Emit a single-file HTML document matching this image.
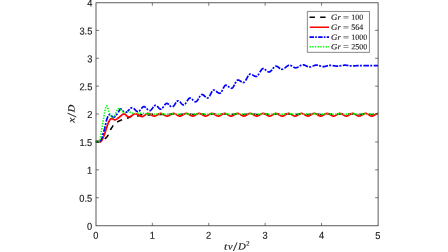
<!DOCTYPE html>
<html><head><meta charset="utf-8"><title>plot</title>
<style>html,body{margin:0;padding:0;background:#fff;}svg{display:block;}text{font-family:"Liberation Sans",sans-serif;}.m{font-family:"Liberation Serif",serif;}</style></head>
<body>
<svg width="448" height="252" viewBox="0 0 448 252">
<rect width="448" height="252" fill="#fff"/>
<defs><clipPath id="c"><rect x="95.5" y="2.6" width="282.8" height="223.1"/></clipPath></defs>
<g clip-path="url(#c)" fill="none" stroke-linejoin="round">
<path d="M95.60 141.60 L95.91 141.60 L96.23 141.60 L96.54 141.60 L96.86 141.60 L97.17 141.60 L97.48 141.60 L97.80 141.60 L98.11 141.60 L98.43 141.60 L98.74 141.60 L99.05 141.60 L99.37 141.60 L99.68 141.60 L100.00 141.60 L100.31 141.60 L100.63 141.60 L100.94 141.60 L101.25 141.60 L101.57 141.60 L101.88 141.60 L102.20 141.60 L102.51 141.60 L102.82 141.53 L103.14 141.34 L103.45 141.06 L103.77 140.70 L104.08 140.29 L104.39 139.85 L104.71 139.41 L105.02 138.97 L105.34 138.57 L105.65 138.22 L105.96 137.87 L106.28 137.52 L106.59 137.17 L106.91 136.80 L107.22 136.42 L107.53 136.02 L107.85 135.59 L108.16 135.12 L108.48 134.59 L108.79 133.96 L109.11 133.23 L109.42 132.45 L109.73 131.65 L110.05 130.86 L110.36 130.11 L110.68 129.44 L110.99 128.86 L111.30 128.35 L111.62 127.86 L111.93 127.40 L112.25 126.94 L112.56 126.46 L112.87 125.94 L113.19 125.44 L113.50 125.07 L113.82 124.73 L114.13 124.41 L114.44 124.10 L114.76 123.81 L115.07 123.54 L115.39 123.28 L115.70 123.03 L116.01 122.80 L116.33 122.58 L116.64 122.37 L116.96 122.16 L117.27 121.97 L117.58 121.78 L117.90 121.60 L118.21 121.43 L118.53 121.26 L118.84 121.11 L119.16 120.96 L119.47 120.81 L119.78 120.68 L120.10 120.54 L120.41 120.42 L120.73 120.29 L121.04 120.17 L121.35 120.05 L121.67 119.94 L121.98 119.83 L122.30 119.72 L122.61 119.62 L122.92 119.52 L123.24 119.42 L123.55 119.33 L123.87 119.24 L124.18 119.15 L124.49 119.06 L124.81 118.97 L125.12 118.88 L125.44 118.79 L125.75 118.70 L126.06 118.61 L126.38 118.51 L126.69 118.41 L127.01 118.31 L127.32 118.20 L127.64 118.09 L127.95 117.96 L128.26 117.82 L128.58 117.66 L128.89 117.50 L129.21 117.33 L129.52 117.15 L129.83 116.99 L130.15 116.82 L130.46 116.67 L130.78 116.53 L131.09 116.41 L131.40 116.31 L131.72 116.24 L132.03 116.20 L132.35 116.17 L132.66 116.14 L132.97 116.12 L133.29 116.10 L133.60 116.09 L133.92 116.08 L134.23 116.06 L134.54 116.05 L134.86 116.04 L135.17 116.03 L135.49 116.02 L135.80 116.01 L136.12 116.00 L136.43 115.98 L136.74 115.96 L137.06 115.94 L137.37 115.92 L137.69 115.89 L138.00 115.85 L138.31 115.78 L138.63 115.71 L138.94 115.62 L139.26 115.52 L139.57 115.41 L139.88 115.30 L140.20 115.19 L140.51 115.09 L140.83 114.99 L141.14 114.90 L141.45 114.82 L141.77 114.76 L142.08 114.72 L142.40 114.70 L142.71 114.70 L143.02 114.70 L143.34 114.71 L143.65 114.72 L143.97 114.73 L144.28 114.74 L144.60 114.75 L144.91 114.77 L145.22 114.78 L145.54 114.80 L145.85 114.81 L146.17 114.83 L146.48 114.84 L146.79 114.86 L147.11 114.87 L147.42 114.88 L147.74 114.89 L148.05 114.90 L148.36 114.90 L148.68 114.90 L148.99 114.89 L149.31 114.86 L149.62 114.82 L149.93 114.78 L150.25 114.72 L150.56 114.65 L150.88 114.58 L151.19 114.51 L151.50 114.44 L151.82 114.36 L152.13 114.29 L152.45 114.22 L152.76 114.16 L153.08 114.11 L153.39 114.06 L153.70 114.03 L154.02 114.01 L154.33 114.00 L154.65 114.00 L154.96 114.01 L155.27 114.03 L155.59 114.05 L155.90 114.08 L156.22 114.11 L156.53 114.14 L156.84 114.17 L157.16 114.21 L157.47 114.25 L157.79 114.28 L158.10 114.32 L158.41 114.35 L158.73 114.39 L159.04 114.42 L159.36 114.44 L159.67 114.47 L159.98 114.48 L160.30 114.49 L160.61 114.50 L160.93 114.50 L161.24 114.50 L161.55 114.50 L161.87 114.50 L162.18 114.50 L162.50 114.50 L162.81 114.50 L163.13 114.50 L163.44 114.50 L163.75 114.50 L164.07 114.50 L164.38 114.50 L164.70 114.50 L165.01 114.50 L165.32 114.50 L165.64 114.50 L165.95 114.50 L166.27 114.50 L166.58 114.50 L166.89 114.50 L167.21 114.50 L167.52 114.49 L167.84 114.48 L168.15 114.46 L168.46 114.43 L168.78 114.40 L169.09 114.36 L169.41 114.32 L169.72 114.28 L170.03 114.24 L170.35 114.19 L170.66 114.15 L170.98 114.11 L171.29 114.07 L171.61 114.03 L171.92 113.99 L172.23 113.96 L172.55 113.94 L172.86 113.92 L173.18 113.90 L173.49 113.90 L173.80 113.90 L174.12 113.92 L174.43 113.93 L174.75 113.96 L175.06 113.99 L175.37 114.02 L175.69 114.06 L176.00 114.10 L176.32 114.15 L176.63 114.19 L176.94 114.23 L177.26 114.28 L177.57 114.32 L177.89 114.36 L178.20 114.40 L178.51 114.43 L178.83 114.46 L179.14 114.48 L179.46 114.49 L179.77 114.50 L180.09 114.50 L180.40 114.49 L180.71 114.47 L181.03 114.45 L181.34 114.42 L181.66 114.39 L181.97 114.35 L182.28 114.31 L182.60 114.27 L182.91 114.23 L183.23 114.18 L183.54 114.14 L183.85 114.10 L184.17 114.06 L184.48 114.02 L184.80 113.98 L185.11 113.95 L185.42 113.93 L185.74 113.91 L186.05 113.90 L186.37 113.90 L186.68 113.91 L186.99 113.92 L187.31 113.94 L187.62 113.97 L187.94 114.00 L188.25 114.03 L188.57 114.07 L188.88 114.11 L189.19 114.16 L189.51 114.20 L189.82 114.25 L190.14 114.29 L190.45 114.33 L190.76 114.37 L191.08 114.40 L191.39 114.44 L191.71 114.46 L192.02 114.48 L192.33 114.49 L192.65 114.50 L192.96 114.50 L193.28 114.49 L193.59 114.47 L193.90 114.44 L194.22 114.41 L194.53 114.38 L194.85 114.34 L195.16 114.30 L195.47 114.26 L195.79 114.22 L196.10 114.17 L196.42 114.13 L196.73 114.09 L197.04 114.05 L197.36 114.01 L197.67 113.98 L197.99 113.95 L198.30 113.93 L198.62 113.91 L198.93 113.90 L199.24 113.90 L199.56 113.91 L199.87 113.92 L200.19 113.95 L200.50 113.97 L200.81 114.01 L201.13 114.04 L201.44 114.08 L201.76 114.12 L202.07 114.17 L202.38 114.21 L202.70 114.26 L203.01 114.30 L203.33 114.34 L203.64 114.38 L203.95 114.41 L204.27 114.44 L204.58 114.47 L204.90 114.49 L205.21 114.50 L205.52 114.50 L205.84 114.50 L206.15 114.48 L206.47 114.46 L206.78 114.44 L207.10 114.41 L207.41 114.37 L207.72 114.33 L208.04 114.29 L208.35 114.25 L208.67 114.20 L208.98 114.16 L209.29 114.12 L209.61 114.08 L209.92 114.04 L210.24 114.00 L210.55 113.97 L210.86 113.94 L211.18 113.92 L211.49 113.91 L211.81 113.90 L212.12 113.90 L212.43 113.91 L212.75 113.93 L213.06 113.95 L213.38 113.98 L213.69 114.01 L214.00 114.05 L214.32 114.09 L214.63 114.13 L214.95 114.18 L215.26 114.22 L215.58 114.27 L215.89 114.31 L216.20 114.35 L216.52 114.39 L216.83 114.42 L217.15 114.45 L217.46 114.47 L217.77 114.49 L218.09 114.50 L218.40 114.50 L218.72 114.49 L219.03 114.48 L219.34 114.46 L219.66 114.43 L219.97 114.40 L220.29 114.36 L220.60 114.32 L220.91 114.28 L221.23 114.24 L221.54 114.19 L221.86 114.15 L222.17 114.11 L222.48 114.07 L222.80 114.03 L223.11 113.99 L223.43 113.96 L223.74 113.94 L224.06 113.92 L224.37 113.90 L224.68 113.90 L225.00 113.90 L225.31 113.92 L225.63 113.93 L225.94 113.96 L226.25 113.99 L226.57 114.02 L226.88 114.06 L227.20 114.10 L227.51 114.15 L227.82 114.19 L228.14 114.23 L228.45 114.28 L228.77 114.32 L229.08 114.36 L229.39 114.39 L229.71 114.43 L230.02 114.45 L230.34 114.48 L230.65 114.49 L230.96 114.50 L231.28 114.50 L231.59 114.49 L231.91 114.47 L232.22 114.45 L232.54 114.42 L232.85 114.39 L233.16 114.35 L233.48 114.31 L233.79 114.27 L234.11 114.23 L234.42 114.18 L234.73 114.14 L235.05 114.10 L235.36 114.06 L235.68 114.02 L235.99 113.98 L236.30 113.96 L236.62 113.93 L236.93 113.91 L237.25 113.90 L237.56 113.90 L237.87 113.91 L238.19 113.92 L238.50 113.94 L238.82 113.97 L239.13 114.00 L239.44 114.03 L239.76 114.07 L240.07 114.11 L240.39 114.16 L240.70 114.20 L241.01 114.24 L241.33 114.29 L241.64 114.33 L241.96 114.37 L242.27 114.40 L242.59 114.43 L242.90 114.46 L243.21 114.48 L243.53 114.49 L243.84 114.50 L244.16 114.50 L244.47 114.49 L244.78 114.47 L245.10 114.44 L245.41 114.42 L245.73 114.38 L246.04 114.34 L246.35 114.30 L246.67 114.26 L246.98 114.22 L247.30 114.17 L247.61 114.13 L247.92 114.09 L248.24 114.05 L248.55 114.01 L248.87 113.98 L249.18 113.95 L249.49 113.93 L249.81 113.91 L250.12 113.90 L250.44 113.90 L250.75 113.91 L251.07 113.92 L251.38 113.95 L251.69 113.97 L252.01 114.01 L252.32 114.04 L252.64 114.08 L252.95 114.12 L253.26 114.17 L253.58 114.21 L253.89 114.25 L254.21 114.30 L254.52 114.34 L254.83 114.38 L255.15 114.41 L255.46 114.44 L255.78 114.47 L256.09 114.48 L256.40 114.50 L256.72 114.50 L257.03 114.50 L257.35 114.48 L257.66 114.46 L257.97 114.44 L258.29 114.41 L258.60 114.37 L258.92 114.33 L259.23 114.29 L259.55 114.25 L259.86 114.21 L260.17 114.16 L260.49 114.12 L260.80 114.08 L261.12 114.04 L261.43 114.00 L261.74 113.97 L262.06 113.94 L262.37 113.92 L262.69 113.91 L263.00 113.90 L263.31 113.90 L263.63 113.91 L263.94 113.93 L264.26 113.95 L264.57 113.98 L264.88 114.01 L265.20 114.05 L265.51 114.09 L265.83 114.13 L266.14 114.18 L266.45 114.22 L266.77 114.27 L267.08 114.31 L267.40 114.35 L267.71 114.39 L268.03 114.42 L268.34 114.45 L268.65 114.47 L268.97 114.49 L269.28 114.50 L269.60 114.50 L269.91 114.49 L270.22 114.48 L270.54 114.46 L270.85 114.43 L271.17 114.40 L271.48 114.36 L271.79 114.32 L272.11 114.28 L272.42 114.24 L272.74 114.19 L273.05 114.15 L273.36 114.11 L273.68 114.07 L273.99 114.03 L274.31 113.99 L274.62 113.96 L274.93 113.94 L275.25 113.92 L275.56 113.90 L275.88 113.90 L276.19 113.90 L276.51 113.92 L276.82 113.93 L277.13 113.96 L277.45 113.99 L277.76 114.02 L278.08 114.06 L278.39 114.10 L278.70 114.14 L279.02 114.19 L279.33 114.23 L279.65 114.28 L279.96 114.32 L280.27 114.36 L280.59 114.39 L280.90 114.43 L281.22 114.45 L281.53 114.48 L281.84 114.49 L282.16 114.50 L282.47 114.50 L282.79 114.49 L283.10 114.47 L283.41 114.45 L283.73 114.42 L284.04 114.39 L284.36 114.35 L284.67 114.31 L284.98 114.27 L285.30 114.23 L285.61 114.18 L285.93 114.14 L286.24 114.10 L286.56 114.06 L286.87 114.02 L287.18 113.99 L287.50 113.96 L287.81 113.93 L288.13 113.91 L288.44 113.90 L288.75 113.90 L289.07 113.91 L289.38 113.92 L289.70 113.94 L290.01 113.97 L290.32 114.00 L290.64 114.03 L290.95 114.07 L291.27 114.11 L291.58 114.16 L291.89 114.20 L292.21 114.24 L292.52 114.29 L292.84 114.33 L293.15 114.37 L293.46 114.40 L293.78 114.43 L294.09 114.46 L294.41 114.48 L294.72 114.49 L295.04 114.50 L295.35 114.50 L295.66 114.49 L295.98 114.47 L296.29 114.45 L296.61 114.42 L296.92 114.38 L297.23 114.34 L297.55 114.30 L297.86 114.26 L298.18 114.22 L298.49 114.17 L298.80 114.13 L299.12 114.09 L299.43 114.05 L299.75 114.01 L300.06 113.98 L300.37 113.95 L300.69 113.93 L301.00 113.91 L301.32 113.90 L301.63 113.90 L301.94 113.91 L302.26 113.92 L302.57 113.94 L302.89 113.97 L303.20 114.00 L303.52 114.04 L303.83 114.08 L304.14 114.12 L304.46 114.17 L304.77 114.21 L305.09 114.25 L305.40 114.30 L305.71 114.34 L306.03 114.38 L306.34 114.41 L306.66 114.44 L306.97 114.47 L307.28 114.48 L307.60 114.50 L307.91 114.50 L308.23 114.50 L308.54 114.48 L308.85 114.46 L309.17 114.44 L309.48 114.41 L309.80 114.37 L310.11 114.33 L310.42 114.29 L310.74 114.25 L311.05 114.21 L311.37 114.16 L311.68 114.12 L312.00 114.08 L312.31 114.04 L312.62 114.00 L312.94 113.97 L313.25 113.94 L313.57 113.92 L313.88 113.91 L314.19 113.90 L314.51 113.90 L314.82 113.91 L315.14 113.93 L315.45 113.95 L315.76 113.98 L316.08 114.01 L316.39 114.05 L316.71 114.09 L317.02 114.13 L317.33 114.18 L317.65 114.22 L317.96 114.26 L318.28 114.31 L318.59 114.35 L318.90 114.38 L319.22 114.42 L319.53 114.45 L319.85 114.47 L320.16 114.49 L320.47 114.50 L320.79 114.50 L321.10 114.49 L321.42 114.48 L321.73 114.46 L322.05 114.43 L322.36 114.40 L322.67 114.36 L322.99 114.32 L323.30 114.28 L323.62 114.24 L323.93 114.20 L324.24 114.15 L324.56 114.11 L324.87 114.07 L325.19 114.03 L325.50 113.99 L325.81 113.96 L326.13 113.94 L326.44 113.92 L326.76 113.91 L327.07 113.90 L327.38 113.90 L327.70 113.91 L328.01 113.93 L328.33 113.96 L328.64 113.99 L328.95 114.02 L329.27 114.06 L329.58 114.10 L329.90 114.14 L330.21 114.19 L330.53 114.23 L330.84 114.28 L331.15 114.32 L331.47 114.36 L331.78 114.39 L332.10 114.43 L332.41 114.45 L332.72 114.48 L333.04 114.49 L333.35 114.50 L333.67 114.50 L333.98 114.49 L334.29 114.47 L334.61 114.45 L334.92 114.42 L335.24 114.39 L335.55 114.35 L335.86 114.31 L336.18 114.27 L336.49 114.23 L336.81 114.19 L337.12 114.14 L337.43 114.10 L337.75 114.06 L338.06 114.02 L338.38 113.99 L338.69 113.96 L339.01 113.93 L339.32 113.91 L339.63 113.90 L339.95 113.90 L340.26 113.91 L340.58 113.92 L340.89 113.94 L341.20 113.96 L341.52 114.00 L341.83 114.03 L342.15 114.07 L342.46 114.11 L342.77 114.15 L343.09 114.20 L343.40 114.24 L343.72 114.29 L344.03 114.33 L344.34 114.37 L344.66 114.40 L344.97 114.43 L345.29 114.46 L345.60 114.48 L345.91 114.49 L346.23 114.50 L346.54 114.50 L346.86 114.49 L347.17 114.47 L347.49 114.45 L347.80 114.42 L348.11 114.38 L348.43 114.35 L348.74 114.30 L349.06 114.26 L349.37 114.22 L349.68 114.17 L350.00 114.13 L350.31 114.09 L350.63 114.05 L350.94 114.01 L351.25 113.98 L351.57 113.95 L351.88 113.93 L352.20 113.91 L352.51 113.90 L352.82 113.90 L353.14 113.91 L353.45 113.92 L353.77 113.94 L354.08 113.97 L354.39 114.00 L354.71 114.04 L355.02 114.08 L355.34 114.12 L355.65 114.17 L355.97 114.21 L356.28 114.25 L356.59 114.30 L356.91 114.34 L357.22 114.38 L357.54 114.41 L357.85 114.44 L358.16 114.47 L358.48 114.48 L358.79 114.50 L359.11 114.50 L359.42 114.50 L359.73 114.48 L360.05 114.46 L360.36 114.44 L360.68 114.41 L360.99 114.37 L361.30 114.34 L361.62 114.29 L361.93 114.25 L362.25 114.21 L362.56 114.16 L362.87 114.12 L363.19 114.08 L363.50 114.04 L363.82 114.00 L364.13 113.97 L364.44 113.94 L364.76 113.92 L365.07 113.91 L365.39 113.90 L365.70 113.90 L366.02 113.91 L366.33 113.93 L366.64 113.95 L366.96 113.98 L367.27 114.01 L367.59 114.05 L367.90 114.09 L368.21 114.13 L368.53 114.18 L368.84 114.22 L369.16 114.26 L369.47 114.31 L369.78 114.35 L370.10 114.38 L370.41 114.42 L370.73 114.45 L371.04 114.47 L371.35 114.49 L371.67 114.50 L371.98 114.50 L372.30 114.49 L372.61 114.48 L372.92 114.46 L373.24 114.43 L373.55 114.40 L373.87 114.36 L374.18 114.33 L374.50 114.28 L374.81 114.24 L375.12 114.20 L375.44 114.15 L375.75 114.11 L376.07 114.07 L376.38 114.03 L376.69 113.99 L377.01 113.96 L377.32 113.94 L377.64 113.92 L377.95 113.91" stroke="#000" stroke-width="1.6" stroke-dasharray="5.4 5.2"/>
<path d="M95.60 141.60 L95.91 141.60 L96.23 141.60 L96.54 141.60 L96.86 141.60 L97.17 141.60 L97.48 141.60 L97.80 141.60 L98.11 141.60 L98.43 141.60 L98.74 141.60 L99.05 141.60 L99.37 141.60 L99.68 141.60 L100.00 141.60 L100.31 141.60 L100.63 141.60 L100.94 141.43 L101.25 141.07 L101.57 140.64 L101.88 140.20 L102.20 139.68 L102.51 139.09 L102.82 138.44 L103.14 137.76 L103.45 137.05 L103.77 136.27 L104.08 135.43 L104.39 134.54 L104.71 133.61 L105.02 132.66 L105.34 131.70 L105.65 130.75 L105.96 129.81 L106.28 128.85 L106.59 127.87 L106.91 126.90 L107.22 125.94 L107.53 124.92 L107.85 123.89 L108.16 123.01 L108.48 122.35 L108.79 121.74 L109.11 121.16 L109.42 120.62 L109.73 120.13 L110.05 119.70 L110.36 119.33 L110.68 119.05 L110.99 118.85 L111.30 118.73 L111.62 118.63 L111.93 118.60 L112.25 118.65 L112.56 118.78 L112.87 118.96 L113.19 119.17 L113.50 119.39 L113.82 119.59 L114.13 119.76 L114.44 119.87 L114.76 119.90 L115.07 119.87 L115.39 119.79 L115.70 119.68 L116.01 119.53 L116.33 119.36 L116.64 119.16 L116.96 118.94 L117.27 118.71 L117.58 118.47 L117.90 118.22 L118.21 117.98 L118.53 117.74 L118.84 117.51 L119.16 117.29 L119.47 117.05 L119.78 116.79 L120.10 116.52 L120.41 116.23 L120.73 115.95 L121.04 115.66 L121.35 115.39 L121.67 115.13 L121.98 114.89 L122.30 114.68 L122.61 114.49 L122.92 114.32 L123.24 114.15 L123.55 114.03 L123.87 114.00 L124.18 114.05 L124.49 114.15 L124.81 114.29 L125.12 114.48 L125.44 114.70 L125.75 114.95 L126.06 115.21 L126.38 115.48 L126.69 115.75 L127.01 116.02 L127.32 116.26 L127.64 116.49 L127.95 116.68 L128.26 116.84 L128.58 116.94 L128.89 117.00 L129.21 116.99 L129.52 116.94 L129.83 116.85 L130.15 116.73 L130.46 116.58 L130.78 116.40 L131.09 116.20 L131.40 115.98 L131.72 115.76 L132.03 115.53 L132.35 115.29 L132.66 115.06 L132.97 114.83 L133.29 114.62 L133.60 114.42 L133.92 114.24 L134.23 114.08 L134.54 113.96 L134.86 113.86 L135.17 113.81 L135.49 113.80 L135.80 113.83 L136.12 113.89 L136.43 113.97 L136.74 114.08 L137.06 114.22 L137.37 114.37 L137.69 114.54 L138.00 114.71 L138.31 114.90 L138.63 115.09 L138.94 115.29 L139.26 115.48 L139.57 115.67 L139.88 115.85 L140.20 116.01 L140.51 116.17 L140.83 116.30 L141.14 116.42 L141.45 116.51 L141.77 116.57 L142.08 116.60 L142.40 116.59 L142.71 116.53 L143.02 116.42 L143.34 116.27 L143.65 116.08 L143.97 115.87 L144.28 115.63 L144.60 115.38 L144.91 115.12 L145.22 114.85 L145.54 114.59 L145.85 114.34 L146.17 114.11 L146.48 113.90 L146.79 113.71 L147.11 113.57 L147.42 113.46 L147.74 113.41 L148.05 113.40 L148.36 113.44 L148.68 113.51 L148.99 113.61 L149.31 113.73 L149.62 113.88 L149.93 114.04 L150.25 114.22 L150.56 114.41 L150.88 114.61 L151.19 114.81 L151.50 115.00 L151.82 115.20 L152.13 115.38 L152.45 115.55 L152.76 115.71 L153.08 115.84 L153.39 115.95 L153.70 116.03 L154.02 116.08 L154.33 116.10 L154.65 116.08 L154.96 116.02 L155.27 115.93 L155.59 115.82 L155.90 115.68 L156.22 115.52 L156.53 115.35 L156.84 115.16 L157.16 114.97 L157.47 114.77 L157.79 114.57 L158.10 114.37 L158.41 114.19 L158.73 114.01 L159.04 113.85 L159.36 113.71 L159.67 113.59 L159.98 113.49 L160.30 113.43 L160.61 113.40 L160.93 113.41 L161.24 113.45 L161.55 113.53 L161.87 113.64 L162.18 113.77 L162.50 113.92 L162.81 114.09 L163.13 114.27 L163.44 114.46 L163.75 114.66 L164.07 114.86 L164.38 115.05 L164.70 115.24 L165.01 115.42 L165.32 115.59 L165.64 115.74 L165.95 115.87 L166.27 115.97 L166.58 116.05 L166.89 116.09 L167.21 116.10 L167.52 116.07 L167.84 116.00 L168.15 115.91 L168.46 115.78 L168.78 115.64 L169.09 115.48 L169.41 115.30 L169.72 115.11 L170.03 114.92 L170.35 114.72 L170.66 114.52 L170.98 114.33 L171.29 114.14 L171.61 113.97 L171.92 113.81 L172.23 113.68 L172.55 113.56 L172.86 113.48 L173.18 113.42 L173.49 113.40 L173.80 113.42 L174.12 113.47 L174.43 113.56 L174.75 113.67 L175.06 113.80 L175.37 113.96 L175.69 114.13 L176.00 114.32 L176.32 114.51 L176.63 114.71 L176.94 114.90 L177.26 115.10 L177.57 115.29 L177.89 115.47 L178.20 115.63 L178.51 115.78 L178.83 115.90 L179.14 116.00 L179.46 116.06 L179.77 116.10 L180.09 116.09 L180.40 116.05 L180.71 115.98 L181.03 115.88 L181.34 115.75 L181.66 115.60 L181.97 115.44 L182.28 115.26 L182.60 115.07 L182.91 114.87 L183.23 114.67 L183.54 114.47 L183.85 114.28 L184.17 114.10 L184.48 113.93 L184.80 113.78 L185.11 113.65 L185.42 113.54 L185.74 113.46 L186.05 113.41 L186.37 113.40 L186.68 113.43 L186.99 113.49 L187.31 113.58 L187.62 113.70 L187.94 113.84 L188.25 114.00 L188.57 114.18 L188.88 114.36 L189.19 114.56 L189.51 114.75 L189.82 114.95 L190.14 115.15 L190.45 115.33 L190.76 115.51 L191.08 115.67 L191.39 115.81 L191.71 115.92 L192.02 116.02 L192.33 116.07 L192.65 116.10 L192.96 116.09 L193.28 116.04 L193.59 115.96 L193.90 115.85 L194.22 115.72 L194.53 115.56 L194.85 115.39 L195.16 115.21 L195.47 115.02 L195.79 114.82 L196.10 114.62 L196.42 114.43 L196.73 114.24 L197.04 114.06 L197.36 113.89 L197.67 113.74 L197.99 113.62 L198.30 113.52 L198.62 113.44 L198.93 113.41 L199.24 113.40 L199.56 113.44 L199.87 113.51 L200.19 113.61 L200.50 113.73 L200.81 113.88 L201.13 114.04 L201.44 114.22 L201.76 114.41 L202.07 114.60 L202.38 114.80 L202.70 115.00 L203.01 115.19 L203.33 115.38 L203.64 115.55 L203.95 115.70 L204.27 115.84 L204.58 115.95 L204.90 116.03 L205.21 116.08 L205.52 116.10 L205.84 116.08 L206.15 116.02 L206.47 115.93 L206.78 115.82 L207.10 115.68 L207.41 115.52 L207.72 115.35 L208.04 115.16 L208.35 114.97 L208.67 114.77 L208.98 114.57 L209.29 114.38 L209.61 114.19 L209.92 114.01 L210.24 113.85 L210.55 113.71 L210.86 113.59 L211.18 113.50 L211.49 113.43 L211.81 113.40 L212.12 113.41 L212.43 113.45 L212.75 113.53 L213.06 113.63 L213.38 113.76 L213.69 113.92 L214.00 114.08 L214.32 114.27 L214.63 114.46 L214.95 114.65 L215.26 114.85 L215.58 115.05 L215.89 115.24 L216.20 115.42 L216.52 115.59 L216.83 115.74 L217.15 115.87 L217.46 115.97 L217.77 116.05 L218.09 116.09 L218.40 116.10 L218.72 116.07 L219.03 116.00 L219.34 115.91 L219.66 115.79 L219.97 115.64 L220.29 115.48 L220.60 115.30 L220.91 115.12 L221.23 114.92 L221.54 114.72 L221.86 114.53 L222.17 114.33 L222.48 114.15 L222.80 113.97 L223.11 113.82 L223.43 113.68 L223.74 113.56 L224.06 113.48 L224.37 113.42 L224.68 113.40 L225.00 113.42 L225.31 113.47 L225.63 113.55 L225.94 113.66 L226.25 113.80 L226.57 113.96 L226.88 114.13 L227.20 114.31 L227.51 114.50 L227.82 114.70 L228.14 114.90 L228.45 115.10 L228.77 115.28 L229.08 115.46 L229.39 115.63 L229.71 115.77 L230.02 115.90 L230.34 115.99 L230.65 116.06 L230.96 116.10 L231.28 116.09 L231.59 116.05 L231.91 115.98 L232.22 115.88 L232.54 115.75 L232.85 115.61 L233.16 115.44 L233.48 115.26 L233.79 115.07 L234.11 114.87 L234.42 114.67 L234.73 114.48 L235.05 114.29 L235.36 114.10 L235.68 113.93 L235.99 113.78 L236.30 113.65 L236.62 113.54 L236.93 113.46 L237.25 113.41 L237.56 113.40 L237.87 113.43 L238.19 113.49 L238.50 113.58 L238.82 113.70 L239.13 113.84 L239.44 114.00 L239.76 114.17 L240.07 114.36 L240.39 114.55 L240.70 114.75 L241.01 114.95 L241.33 115.14 L241.64 115.33 L241.96 115.50 L242.27 115.66 L242.59 115.81 L242.90 115.92 L243.21 116.01 L243.53 116.07 L243.84 116.10 L244.16 116.09 L244.47 116.04 L244.78 115.96 L245.10 115.85 L245.41 115.72 L245.73 115.57 L246.04 115.40 L246.35 115.21 L246.67 115.02 L246.98 114.82 L247.30 114.63 L247.61 114.43 L247.92 114.24 L248.24 114.06 L248.55 113.89 L248.87 113.75 L249.18 113.62 L249.49 113.52 L249.81 113.45 L250.12 113.41 L250.44 113.40 L250.75 113.44 L251.07 113.51 L251.38 113.60 L251.69 113.73 L252.01 113.87 L252.32 114.04 L252.64 114.22 L252.95 114.41 L253.26 114.60 L253.58 114.80 L253.89 115.00 L254.21 115.19 L254.52 115.37 L254.83 115.55 L255.15 115.70 L255.46 115.84 L255.78 115.95 L256.09 116.03 L256.40 116.08 L256.72 116.10 L257.03 116.08 L257.35 116.02 L257.66 115.94 L257.97 115.82 L258.29 115.68 L258.60 115.53 L258.92 115.35 L259.23 115.17 L259.55 114.97 L259.86 114.78 L260.17 114.58 L260.49 114.38 L260.80 114.19 L261.12 114.02 L261.43 113.86 L261.74 113.71 L262.06 113.59 L262.37 113.50 L262.69 113.43 L263.00 113.40 L263.31 113.41 L263.63 113.45 L263.94 113.53 L264.26 113.63 L264.57 113.76 L264.88 113.91 L265.20 114.08 L265.51 114.26 L265.83 114.45 L266.14 114.65 L266.45 114.85 L266.77 115.04 L267.08 115.24 L267.40 115.42 L267.71 115.59 L268.03 115.74 L268.34 115.87 L268.65 115.97 L268.97 116.05 L269.28 116.09 L269.60 116.10 L269.91 116.07 L270.22 116.00 L270.54 115.91 L270.85 115.79 L271.17 115.65 L271.48 115.48 L271.79 115.31 L272.11 115.12 L272.42 114.93 L272.74 114.73 L273.05 114.53 L273.36 114.34 L273.68 114.15 L273.99 113.98 L274.31 113.82 L274.62 113.68 L274.93 113.57 L275.25 113.48 L275.56 113.42 L275.88 113.40 L276.19 113.42 L276.51 113.47 L276.82 113.55 L277.13 113.66 L277.45 113.80 L277.76 113.95 L278.08 114.12 L278.39 114.31 L278.70 114.50 L279.02 114.70 L279.33 114.90 L279.65 115.09 L279.96 115.28 L280.27 115.46 L280.59 115.62 L280.90 115.77 L281.22 115.89 L281.53 115.99 L281.84 116.06 L282.16 116.10 L282.47 116.09 L282.79 116.06 L283.10 115.98 L283.41 115.88 L283.73 115.76 L284.04 115.61 L284.36 115.44 L284.67 115.26 L284.98 115.07 L285.30 114.88 L285.61 114.68 L285.93 114.48 L286.24 114.29 L286.56 114.11 L286.87 113.94 L287.18 113.78 L287.50 113.65 L287.81 113.54 L288.13 113.46 L288.44 113.41 L288.75 113.40 L289.07 113.43 L289.38 113.49 L289.70 113.58 L290.01 113.69 L290.32 113.83 L290.64 113.99 L290.95 114.17 L291.27 114.35 L291.58 114.55 L291.89 114.75 L292.21 114.94 L292.52 115.14 L292.84 115.33 L293.15 115.50 L293.46 115.66 L293.78 115.80 L294.09 115.92 L294.41 116.01 L294.72 116.07 L295.04 116.10 L295.35 116.09 L295.66 116.04 L295.98 115.96 L296.29 115.85 L296.61 115.72 L296.92 115.57 L297.23 115.40 L297.55 115.22 L297.86 115.03 L298.18 114.83 L298.49 114.63 L298.80 114.43 L299.12 114.24 L299.43 114.06 L299.75 113.90 L300.06 113.75 L300.37 113.62 L300.69 113.52 L301.00 113.45 L301.32 113.41 L301.63 113.40 L301.94 113.44 L302.26 113.50 L302.57 113.60 L302.89 113.73 L303.20 113.87 L303.52 114.03 L303.83 114.21 L304.14 114.40 L304.46 114.60 L304.77 114.80 L305.09 114.99 L305.40 115.19 L305.71 115.37 L306.03 115.54 L306.34 115.70 L306.66 115.83 L306.97 115.95 L307.28 116.03 L307.60 116.08 L307.91 116.10 L308.23 116.08 L308.54 116.02 L308.85 115.94 L309.17 115.82 L309.48 115.69 L309.80 115.53 L310.11 115.36 L310.42 115.17 L310.74 114.98 L311.05 114.78 L311.37 114.58 L311.68 114.39 L312.00 114.20 L312.31 114.02 L312.62 113.86 L312.94 113.72 L313.25 113.59 L313.57 113.50 L313.88 113.43 L314.19 113.40 L314.51 113.41 L314.82 113.45 L315.14 113.53 L315.45 113.63 L315.76 113.76 L316.08 113.91 L316.39 114.08 L316.71 114.26 L317.02 114.45 L317.33 114.65 L317.65 114.84 L317.96 115.04 L318.28 115.23 L318.59 115.41 L318.90 115.58 L319.22 115.73 L319.53 115.86 L319.85 115.97 L320.16 116.05 L320.47 116.09 L320.79 116.10 L321.10 116.07 L321.42 116.01 L321.73 115.91 L322.05 115.79 L322.36 115.65 L322.67 115.49 L322.99 115.31 L323.30 115.12 L323.62 114.93 L323.93 114.73 L324.24 114.53 L324.56 114.34 L324.87 114.15 L325.19 113.98 L325.50 113.82 L325.81 113.68 L326.13 113.57 L326.44 113.48 L326.76 113.42 L327.07 113.40 L327.38 113.42 L327.70 113.47 L328.01 113.55 L328.33 113.66 L328.64 113.79 L328.95 113.95 L329.27 114.12 L329.58 114.30 L329.90 114.50 L330.21 114.69 L330.53 114.89 L330.84 115.09 L331.15 115.28 L331.47 115.46 L331.78 115.62 L332.10 115.77 L332.41 115.89 L332.72 115.99 L333.04 116.06 L333.35 116.10 L333.67 116.09 L333.98 116.06 L334.29 115.99 L334.61 115.89 L334.92 115.76 L335.24 115.61 L335.55 115.45 L335.86 115.27 L336.18 115.08 L336.49 114.88 L336.81 114.68 L337.12 114.49 L337.43 114.29 L337.75 114.11 L338.06 113.94 L338.38 113.79 L338.69 113.65 L339.01 113.54 L339.32 113.46 L339.63 113.41 L339.95 113.40 L340.26 113.42 L340.58 113.48 L340.89 113.57 L341.20 113.69 L341.52 113.83 L341.83 113.99 L342.15 114.16 L342.46 114.35 L342.77 114.54 L343.09 114.74 L343.40 114.94 L343.72 115.14 L344.03 115.32 L344.34 115.50 L344.66 115.66 L344.97 115.80 L345.29 115.92 L345.60 116.01 L345.91 116.07 L346.23 116.10 L346.54 116.09 L346.86 116.04 L347.17 115.96 L347.49 115.86 L347.80 115.72 L348.11 115.57 L348.43 115.40 L348.74 115.22 L349.06 115.03 L349.37 114.83 L349.68 114.63 L350.00 114.44 L350.31 114.25 L350.63 114.07 L350.94 113.90 L351.25 113.75 L351.57 113.62 L351.88 113.52 L352.20 113.45 L352.51 113.41 L352.82 113.40 L353.14 113.44 L353.45 113.50 L353.77 113.60 L354.08 113.72 L354.39 113.87 L354.71 114.03 L355.02 114.21 L355.34 114.40 L355.65 114.59 L355.97 114.79 L356.28 114.99 L356.59 115.18 L356.91 115.37 L357.22 115.54 L357.54 115.69 L357.85 115.83 L358.16 115.94 L358.48 116.03 L358.79 116.08 L359.11 116.10 L359.42 116.08 L359.73 116.03 L360.05 115.94 L360.36 115.83 L360.68 115.69 L360.99 115.53 L361.30 115.36 L361.62 115.17 L361.93 114.98 L362.25 114.78 L362.56 114.59 L362.87 114.39 L363.19 114.20 L363.50 114.02 L363.82 113.86 L364.13 113.72 L364.44 113.60 L364.76 113.50 L365.07 113.43 L365.39 113.40 L365.70 113.41 L366.02 113.45 L366.33 113.52 L366.64 113.63 L366.96 113.76 L367.27 113.91 L367.59 114.07 L367.90 114.25 L368.21 114.44 L368.53 114.64 L368.84 114.84 L369.16 115.04 L369.47 115.23 L369.78 115.41 L370.10 115.58 L370.41 115.73 L370.73 115.86 L371.04 115.97 L371.35 116.04 L371.67 116.09 L371.98 116.10 L372.30 116.07 L372.61 116.01 L372.92 115.91 L373.24 115.79 L373.55 115.65 L373.87 115.49 L374.18 115.32 L374.50 115.13 L374.81 114.93 L375.12 114.74 L375.44 114.54 L375.75 114.34 L376.07 114.16 L376.38 113.98 L376.69 113.82 L377.01 113.69 L377.32 113.57 L377.64 113.48 L377.95 113.42" stroke="#f00" stroke-width="1.7"/>
<path d="M95.60 141.60 L95.91 141.60 L96.23 141.60 L96.54 141.60 L96.86 141.60 L97.17 141.60 L97.48 141.60 L97.80 141.60 L98.11 141.60 L98.43 141.60 L98.74 141.60 L99.05 141.60 L99.37 141.60 L99.68 141.60 L100.00 141.49 L100.31 141.16 L100.63 140.67 L100.94 140.07 L101.25 139.41 L101.57 138.76 L101.88 137.96 L102.20 136.98 L102.51 135.90 L102.82 134.77 L103.14 133.65 L103.45 132.60 L103.77 131.56 L104.08 130.50 L104.39 129.41 L104.71 128.27 L105.02 127.00 L105.34 125.59 L105.65 124.12 L105.96 122.66 L106.28 121.28 L106.59 120.06 L106.91 119.08 L107.22 118.25 L107.53 117.45 L107.85 116.71 L108.16 116.06 L108.48 115.51 L108.79 115.09 L109.11 114.82 L109.42 114.60 L109.73 114.42 L110.05 114.31 L110.36 114.33 L110.68 114.50 L110.99 114.82 L111.30 115.23 L111.62 115.70 L111.93 116.18 L112.25 116.64 L112.56 117.04 L112.87 117.34 L113.19 117.49 L113.50 117.48 L113.82 117.40 L114.13 117.25 L114.44 117.05 L114.76 116.79 L115.07 116.49 L115.39 116.15 L115.70 115.79 L116.01 115.40 L116.33 115.00 L116.64 114.60 L116.96 114.19 L117.27 113.80 L117.58 113.42 L117.90 112.99 L118.21 112.47 L118.53 111.88 L118.84 111.26 L119.16 110.66 L119.47 110.09 L119.78 109.61 L120.10 109.25 L120.41 109.04 L120.73 109.01 L121.04 109.09 L121.35 109.26 L121.67 109.49 L121.98 109.78 L122.30 110.11 L122.61 110.46 L122.92 110.83 L123.24 111.19 L123.55 111.55 L123.87 111.87 L124.18 112.15 L124.49 112.37 L124.81 112.53 L125.12 112.60 L125.44 112.58 L125.75 112.51 L126.06 112.39 L126.38 112.23 L126.69 112.03 L127.01 111.79 L127.32 111.52 L127.64 111.23 L127.95 110.93 L128.26 110.61 L128.58 110.28 L128.89 109.95 L129.21 109.62 L129.52 109.31 L129.83 109.00 L130.15 108.72 L130.46 108.46 L130.78 108.23 L131.09 108.03 L131.40 107.88 L131.72 107.77 L132.03 107.71 L132.35 107.71 L132.66 107.77 L132.97 107.90 L133.29 108.08 L133.60 108.31 L133.92 108.57 L134.23 108.86 L134.54 109.17 L134.86 109.50 L135.17 109.83 L135.49 110.16 L135.80 110.47 L136.12 110.77 L136.43 111.04 L136.74 111.27 L137.06 111.46 L137.37 111.60 L137.69 111.68 L138.00 111.70 L138.31 111.63 L138.63 111.50 L138.94 111.30 L139.26 111.06 L139.57 110.76 L139.88 110.43 L140.20 110.07 L140.51 109.70 L140.83 109.31 L141.14 108.91 L141.45 108.52 L141.77 108.15 L142.08 107.79 L142.40 107.47 L142.71 107.19 L143.02 106.95 L143.34 106.77 L143.65 106.65 L143.97 106.60 L144.28 106.63 L144.60 106.73 L144.91 106.89 L145.22 107.10 L145.54 107.36 L145.85 107.65 L146.17 107.97 L146.48 108.30 L146.79 108.64 L147.11 108.99 L147.42 109.32 L147.74 109.64 L148.05 109.93 L148.36 110.19 L148.68 110.40 L148.99 110.57 L149.31 110.67 L149.62 110.70 L149.93 110.65 L150.25 110.52 L150.56 110.33 L150.88 110.07 L151.19 109.76 L151.50 109.41 L151.82 109.03 L152.13 108.63 L152.45 108.21 L152.76 107.78 L153.08 107.36 L153.39 106.96 L153.70 106.58 L154.02 106.23 L154.33 105.92 L154.65 105.67 L154.96 105.47 L155.27 105.35 L155.59 105.30 L155.90 105.34 L156.22 105.46 L156.53 105.64 L156.84 105.88 L157.16 106.17 L157.47 106.49 L157.79 106.84 L158.10 107.19 L158.41 107.55 L158.73 107.90 L159.04 108.23 L159.36 108.53 L159.67 108.79 L159.98 108.99 L160.30 109.13 L160.61 109.20 L160.93 109.18 L161.24 109.07 L161.55 108.89 L161.87 108.64 L162.18 108.34 L162.50 107.99 L162.81 107.60 L163.13 107.18 L163.44 106.74 L163.75 106.30 L164.07 105.85 L164.38 105.41 L164.70 104.99 L165.01 104.61 L165.32 104.25 L165.64 103.95 L165.95 103.71 L166.27 103.53 L166.58 103.42 L166.89 103.40 L167.21 103.46 L167.52 103.58 L167.84 103.76 L168.15 103.98 L168.46 104.24 L168.78 104.53 L169.09 104.84 L169.41 105.16 L169.72 105.47 L170.03 105.79 L170.35 106.08 L170.66 106.35 L170.98 106.58 L171.29 106.77 L171.61 106.91 L171.92 106.99 L172.23 106.99 L172.55 106.90 L172.86 106.73 L173.18 106.49 L173.49 106.18 L173.80 105.82 L174.12 105.41 L174.43 104.97 L174.75 104.51 L175.06 104.04 L175.37 103.56 L175.69 103.09 L176.00 102.63 L176.32 102.21 L176.63 101.82 L176.94 101.48 L177.26 101.20 L177.57 100.98 L177.89 100.85 L178.20 100.80 L178.51 100.84 L178.83 100.96 L179.14 101.14 L179.46 101.38 L179.77 101.66 L180.09 101.98 L180.40 102.32 L180.71 102.68 L181.03 103.05 L181.34 103.41 L181.66 103.76 L181.97 104.08 L182.28 104.37 L182.60 104.62 L182.91 104.81 L183.23 104.94 L183.54 105.00 L183.85 104.97 L184.17 104.84 L184.48 104.64 L184.80 104.36 L185.11 104.01 L185.42 103.62 L185.74 103.18 L186.05 102.70 L186.37 102.21 L186.68 101.70 L186.99 101.18 L187.31 100.67 L187.62 100.18 L187.94 99.71 L188.25 99.28 L188.57 98.90 L188.88 98.57 L189.19 98.31 L189.51 98.12 L189.82 98.02 L190.14 98.01 L190.45 98.07 L190.76 98.19 L191.08 98.37 L191.39 98.59 L191.71 98.84 L192.02 99.13 L192.33 99.43 L192.65 99.75 L192.96 100.06 L193.28 100.38 L193.59 100.68 L193.90 100.97 L194.22 101.22 L194.53 101.44 L194.85 101.61 L195.16 101.73 L195.47 101.79 L195.79 101.78 L196.10 101.67 L196.42 101.47 L196.73 101.20 L197.04 100.85 L197.36 100.45 L197.67 100.00 L197.99 99.51 L198.30 99.00 L198.62 98.47 L198.93 97.93 L199.24 97.40 L199.56 96.88 L199.87 96.39 L200.19 95.93 L200.50 95.52 L200.81 95.16 L201.13 94.87 L201.44 94.66 L201.76 94.53 L202.07 94.50 L202.38 94.55 L202.70 94.65 L203.01 94.80 L203.33 95.00 L203.64 95.23 L203.95 95.48 L204.27 95.76 L204.58 96.05 L204.90 96.34 L205.21 96.63 L205.52 96.91 L205.84 97.18 L206.15 97.42 L206.47 97.63 L206.78 97.80 L207.10 97.92 L207.41 97.99 L207.72 97.99 L208.04 97.88 L208.35 97.67 L208.67 97.36 L208.98 96.97 L209.29 96.51 L209.61 96.00 L209.92 95.44 L210.24 94.85 L210.55 94.24 L210.86 93.63 L211.18 93.03 L211.49 92.46 L211.81 91.91 L212.12 91.41 L212.43 90.98 L212.75 90.62 L213.06 90.34 L213.38 90.16 L213.69 90.10 L214.00 90.12 L214.32 90.19 L214.63 90.30 L214.95 90.45 L215.26 90.62 L215.58 90.82 L215.89 91.04 L216.20 91.27 L216.52 91.52 L216.83 91.76 L217.15 92.01 L217.46 92.25 L217.77 92.48 L218.09 92.69 L218.40 92.87 L218.72 93.03 L219.03 93.16 L219.34 93.25 L219.66 93.29 L219.97 93.28 L220.29 93.15 L220.60 92.91 L220.91 92.57 L221.23 92.14 L221.54 91.65 L221.86 91.10 L222.17 90.51 L222.48 89.89 L222.80 89.25 L223.11 88.62 L223.43 88.00 L223.74 87.41 L224.06 86.86 L224.37 86.36 L224.68 85.94 L225.00 85.60 L225.31 85.35 L225.63 85.22 L225.94 85.21 L226.25 85.25 L226.57 85.35 L226.88 85.48 L227.20 85.65 L227.51 85.85 L227.82 86.07 L228.14 86.31 L228.45 86.55 L228.77 86.80 L229.08 87.05 L229.39 87.30 L229.71 87.53 L230.02 87.74 L230.34 87.92 L230.65 88.08 L230.96 88.20 L231.28 88.27 L231.59 88.30 L231.91 88.24 L232.22 88.07 L232.54 87.81 L232.85 87.45 L233.16 87.02 L233.48 86.53 L233.79 85.99 L234.11 85.41 L234.42 84.80 L234.73 84.18 L235.05 83.56 L235.36 82.96 L235.68 82.37 L235.99 81.83 L236.30 81.33 L236.62 80.89 L236.93 80.53 L237.25 80.25 L237.56 80.07 L237.87 80.00 L238.19 80.02 L238.50 80.08 L238.82 80.18 L239.13 80.31 L239.44 80.47 L239.76 80.64 L240.07 80.84 L240.39 81.04 L240.70 81.25 L241.01 81.46 L241.33 81.66 L241.64 81.86 L241.96 82.04 L242.27 82.19 L242.59 82.32 L242.90 82.42 L243.21 82.48 L243.53 82.50 L243.84 82.44 L244.16 82.27 L244.47 82.02 L244.78 81.69 L245.10 81.29 L245.41 80.84 L245.73 80.33 L246.04 79.79 L246.35 79.23 L246.67 78.64 L246.98 78.05 L247.30 77.47 L247.61 76.89 L247.92 76.35 L248.24 75.84 L248.55 75.37 L248.87 74.97 L249.18 74.62 L249.49 74.36 L249.81 74.18 L250.12 74.10 L250.44 74.11 L250.75 74.16 L251.07 74.23 L251.38 74.33 L251.69 74.46 L252.01 74.61 L252.32 74.77 L252.64 74.94 L252.95 75.12 L253.26 75.31 L253.58 75.49 L253.89 75.67 L254.21 75.85 L254.52 76.01 L254.83 76.15 L255.15 76.28 L255.46 76.38 L255.78 76.45 L256.09 76.49 L256.40 76.49 L256.72 76.41 L257.03 76.24 L257.35 76.00 L257.66 75.68 L257.97 75.30 L258.29 74.87 L258.60 74.40 L258.92 73.89 L259.23 73.36 L259.55 72.82 L259.86 72.27 L260.17 71.73 L260.49 71.20 L260.80 70.70 L261.12 70.23 L261.43 69.80 L261.74 69.42 L262.06 69.10 L262.37 68.85 L262.69 68.68 L263.00 68.61 L263.31 68.61 L263.63 68.68 L263.94 68.79 L264.26 68.94 L264.57 69.13 L264.88 69.34 L265.20 69.58 L265.51 69.84 L265.83 70.11 L266.14 70.38 L266.45 70.65 L266.77 70.91 L267.08 71.16 L267.40 71.38 L267.71 71.58 L268.03 71.75 L268.34 71.88 L268.65 71.97 L268.97 72.00 L269.28 71.97 L269.60 71.88 L269.91 71.73 L270.22 71.53 L270.54 71.28 L270.85 71.00 L271.17 70.68 L271.48 70.33 L271.79 69.97 L272.11 69.59 L272.42 69.20 L272.74 68.81 L273.05 68.42 L273.36 68.05 L273.68 67.69 L273.99 67.36 L274.31 67.05 L274.62 66.79 L274.93 66.56 L275.25 66.39 L275.56 66.27 L275.88 66.21 L276.19 66.21 L276.51 66.26 L276.82 66.36 L277.13 66.49 L277.45 66.65 L277.76 66.84 L278.08 67.06 L278.39 67.28 L278.70 67.52 L279.02 67.76 L279.33 68.01 L279.65 68.24 L279.96 68.47 L280.27 68.68 L280.59 68.87 L280.90 69.03 L281.22 69.16 L281.53 69.25 L281.84 69.29 L282.16 69.29 L282.47 69.25 L282.79 69.17 L283.10 69.06 L283.41 68.92 L283.73 68.75 L284.04 68.55 L284.36 68.34 L284.67 68.11 L284.98 67.87 L285.30 67.62 L285.61 67.36 L285.93 67.10 L286.24 66.85 L286.56 66.60 L286.87 66.36 L287.18 66.13 L287.50 65.92 L287.81 65.73 L288.13 65.56 L288.44 65.42 L288.75 65.31 L289.07 65.24 L289.38 65.20 L289.70 65.21 L290.01 65.25 L290.32 65.33 L290.64 65.43 L290.95 65.56 L291.27 65.71 L291.58 65.88 L291.89 66.06 L292.21 66.26 L292.52 66.45 L292.84 66.65 L293.15 66.84 L293.46 67.03 L293.78 67.21 L294.09 67.37 L294.41 67.51 L294.72 67.63 L295.04 67.72 L295.35 67.78 L295.66 67.80 L295.98 67.79 L296.29 67.74 L296.61 67.67 L296.92 67.56 L297.23 67.44 L297.55 67.30 L297.86 67.13 L298.18 66.96 L298.49 66.77 L298.80 66.58 L299.12 66.38 L299.43 66.18 L299.75 65.99 L300.06 65.80 L300.37 65.61 L300.69 65.44 L301.00 65.28 L301.32 65.14 L301.63 65.02 L301.94 64.92 L302.26 64.85 L302.57 64.81 L302.89 64.80 L303.20 64.82 L303.52 64.87 L303.83 64.94 L304.14 65.02 L304.46 65.13 L304.77 65.25 L305.09 65.38 L305.40 65.52 L305.71 65.67 L306.03 65.82 L306.34 65.97 L306.66 66.12 L306.97 66.27 L307.28 66.41 L307.60 66.54 L307.91 66.66 L308.23 66.77 L308.54 66.86 L308.85 66.93 L309.17 66.97 L309.48 67.00 L309.80 67.00 L310.11 66.97 L310.42 66.92 L310.74 66.86 L311.05 66.78 L311.37 66.68 L311.68 66.58 L312.00 66.46 L312.31 66.34 L312.62 66.21 L312.94 66.08 L313.25 65.94 L313.57 65.82 L313.88 65.69 L314.19 65.57 L314.51 65.46 L314.82 65.36 L315.14 65.27 L315.45 65.20 L315.76 65.15 L316.08 65.11 L316.39 65.10 L316.71 65.11 L317.02 65.13 L317.33 65.17 L317.65 65.22 L317.96 65.29 L318.28 65.36 L318.59 65.44 L318.90 65.53 L319.22 65.62 L319.53 65.72 L319.85 65.82 L320.16 65.92 L320.47 66.02 L320.79 66.11 L321.10 66.20 L321.42 66.29 L321.73 66.37 L322.05 66.44 L322.36 66.50 L322.67 66.54 L322.99 66.58 L323.30 66.60 L323.62 66.60 L323.93 66.58 L324.24 66.56 L324.56 66.51 L324.87 66.46 L325.19 66.40 L325.50 66.33 L325.81 66.25 L326.13 66.17 L326.44 66.08 L326.76 66.00 L327.07 65.91 L327.38 65.83 L327.70 65.74 L328.01 65.67 L328.33 65.60 L328.64 65.54 L328.95 65.48 L329.27 65.44 L329.58 65.41 L329.90 65.40 L330.21 65.40 L330.53 65.41 L330.84 65.43 L331.15 65.45 L331.47 65.48 L331.78 65.51 L332.10 65.55 L332.41 65.59 L332.72 65.64 L333.04 65.68 L333.35 65.73 L333.67 65.77 L333.98 65.82 L334.29 65.87 L334.61 65.91 L334.92 65.95 L335.24 65.99 L335.55 66.02 L335.86 66.05 L336.18 66.07 L336.49 66.09 L336.81 66.10 L337.12 66.10 L337.43 66.09 L337.75 66.08 L338.06 66.06 L338.38 66.03 L338.69 66.00 L339.01 65.96 L339.32 65.92 L339.63 65.87 L339.95 65.82 L340.26 65.77 L340.58 65.72 L340.89 65.67 L341.20 65.62 L341.52 65.56 L341.83 65.51 L342.15 65.46 L342.46 65.41 L342.77 65.37 L343.09 65.33 L343.40 65.29 L343.72 65.26 L344.03 65.24 L344.34 65.22 L344.66 65.20 L344.97 65.20 L345.29 65.20 L345.60 65.21 L345.91 65.23 L346.23 65.26 L346.54 65.29 L346.86 65.32 L347.17 65.36 L347.49 65.40 L347.80 65.45 L348.11 65.49 L348.43 65.54 L348.74 65.59 L349.06 65.63 L349.37 65.68 L349.68 65.72 L350.00 65.76 L350.31 65.80 L350.63 65.83 L350.94 65.86 L351.25 65.88 L351.57 65.89 L351.88 65.90 L352.20 65.90 L352.51 65.90 L352.82 65.89 L353.14 65.88 L353.45 65.87 L353.77 65.86 L354.08 65.85 L354.39 65.84 L354.71 65.82 L355.02 65.80 L355.34 65.79 L355.65 65.77 L355.97 65.75 L356.28 65.73 L356.59 65.72 L356.91 65.70 L357.22 65.68 L357.54 65.67 L357.85 65.65 L358.16 65.64 L358.48 65.63 L358.79 65.62 L359.11 65.61 L359.42 65.60 L359.73 65.60 L360.05 65.60 L360.36 65.60 L360.68 65.60 L360.99 65.60 L361.30 65.60 L361.62 65.60 L361.93 65.60 L362.25 65.60 L362.56 65.60 L362.87 65.60 L363.19 65.60 L363.50 65.60 L363.82 65.60 L364.13 65.60 L364.44 65.60 L364.76 65.60 L365.07 65.60 L365.39 65.60 L365.70 65.60 L366.02 65.60 L366.33 65.60 L366.64 65.60 L366.96 65.60 L367.27 65.60 L367.59 65.60 L367.90 65.60 L368.21 65.60 L368.53 65.60 L368.84 65.60 L369.16 65.60 L369.47 65.60 L369.78 65.60 L370.10 65.60 L370.41 65.60 L370.73 65.60 L371.04 65.60 L371.35 65.60 L371.67 65.60 L371.98 65.60 L372.30 65.60 L372.61 65.60 L372.92 65.60 L373.24 65.60 L373.55 65.60 L373.87 65.60 L374.18 65.60 L374.50 65.60 L374.81 65.60 L375.12 65.60 L375.44 65.60 L375.75 65.60 L376.07 65.60 L376.38 65.60 L376.69 65.60 L377.01 65.60 L377.32 65.60 L377.64 65.60 L377.95 65.60" stroke="#00f" stroke-width="1.7" stroke-dasharray="5.6 1.2 2.0 1.5" stroke-dashoffset="5.6"/>
<path d="M95.60 141.60 L95.91 141.60 L96.23 141.60 L96.54 141.60 L96.86 141.60 L97.17 141.60 L97.48 141.60 L97.80 141.60 L98.11 141.60 L98.43 141.60 L98.74 141.60 L99.05 141.60 L99.37 141.60 L99.68 141.06 L100.00 139.60 L100.31 137.85 L100.63 136.23 L100.94 134.42 L101.25 132.50 L101.57 130.59 L101.88 128.66 L102.20 126.73 L102.51 124.85 L102.82 123.01 L103.14 121.16 L103.45 119.30 L103.77 117.33 L104.08 115.22 L104.39 113.43 L104.71 111.98 L105.02 110.53 L105.34 109.15 L105.65 107.92 L105.96 106.91 L106.28 106.19 L106.59 105.83 L106.91 105.90 L107.22 106.38 L107.53 107.18 L107.85 108.19 L108.16 109.34 L108.48 110.51 L108.79 111.61 L109.11 112.55 L109.42 113.23 L109.73 113.78 L110.05 114.33 L110.36 114.87 L110.68 115.39 L110.99 115.87 L111.30 116.32 L111.62 116.70 L111.93 117.03 L112.25 117.28 L112.56 117.44 L112.87 117.50 L113.19 117.43 L113.50 117.22 L113.82 116.88 L114.13 116.44 L114.44 115.89 L114.76 115.28 L115.07 114.61 L115.39 113.90 L115.70 113.17 L116.01 112.43 L116.33 111.71 L116.64 111.03 L116.96 110.39 L117.27 109.83 L117.58 109.35 L117.90 108.97 L118.21 108.72 L118.53 108.60 L118.84 108.62 L119.16 108.70 L119.47 108.83 L119.78 109.00 L120.10 109.22 L120.41 109.47 L120.73 109.75 L121.04 110.04 L121.35 110.35 L121.67 110.67 L121.98 110.98 L122.30 111.29 L122.61 111.59 L122.92 111.86 L123.24 112.11 L123.55 112.32 L123.87 112.49 L124.18 112.62 L124.49 112.69 L124.81 112.70 L125.12 112.64 L125.44 112.54 L125.75 112.40 L126.06 112.24 L126.38 112.08 L126.69 111.93 L127.01 111.81 L127.32 111.73 L127.64 111.70 L127.95 111.71 L128.26 111.74 L128.58 111.79 L128.89 111.86 L129.21 111.93 L129.52 112.02 L129.83 112.12 L130.15 112.23 L130.46 112.34 L130.78 112.46 L131.09 112.58 L131.40 112.70 L131.72 112.81 L132.03 112.93 L132.35 113.04 L132.66 113.14 L132.97 113.23 L133.29 113.31 L133.60 113.38 L133.92 113.44 L134.23 113.48 L134.54 113.50 L134.86 113.50 L135.17 113.49 L135.49 113.48 L135.80 113.47 L136.12 113.45 L136.43 113.43 L136.74 113.40 L137.06 113.37 L137.37 113.35 L137.69 113.32 L138.00 113.30 L138.31 113.27 L138.63 113.25 L138.94 113.23 L139.26 113.22 L139.57 113.21 L139.88 113.20 L140.20 113.20 L140.51 113.20 L140.83 113.21 L141.14 113.22 L141.45 113.24 L141.77 113.25 L142.08 113.27 L142.40 113.29 L142.71 113.32 L143.02 113.34 L143.34 113.37 L143.65 113.40 L143.97 113.43 L144.28 113.46 L144.60 113.49 L144.91 113.52 L145.22 113.55 L145.54 113.58 L145.85 113.61 L146.17 113.64 L146.48 113.68 L146.79 113.70 L147.11 113.73 L147.42 113.76 L147.74 113.79 L148.05 113.81 L148.36 113.84 L148.68 113.87 L148.99 113.90 L149.31 113.93 L149.62 113.96 L149.93 113.99 L150.25 114.03 L150.56 114.06 L150.88 114.09 L151.19 114.12 L151.50 114.15 L151.82 114.18 L152.13 114.20 L152.45 114.23 L152.76 114.25 L153.08 114.27 L153.39 114.28 L153.70 114.29 L154.02 114.30 L154.33 114.30 L154.65 114.30 L154.96 114.29 L155.27 114.27 L155.59 114.25 L155.90 114.22 L156.22 114.19 L156.53 114.16 L156.84 114.13 L157.16 114.09 L157.47 114.05 L157.79 114.02 L158.10 113.98 L158.41 113.95 L158.73 113.91 L159.04 113.88 L159.36 113.86 L159.67 113.83 L159.98 113.82 L160.30 113.81 L160.61 113.80 L160.93 113.80 L161.24 113.81 L161.55 113.82 L161.87 113.84 L162.18 113.87 L162.50 113.90 L162.81 113.93 L163.13 113.96 L163.44 114.00 L163.75 114.03 L164.07 114.07 L164.38 114.11 L164.70 114.14 L165.01 114.17 L165.32 114.21 L165.64 114.23 L165.95 114.26 L166.27 114.28 L166.58 114.29 L166.89 114.30 L167.21 114.30 L167.52 114.29 L167.84 114.28 L168.15 114.26 L168.46 114.24 L168.78 114.21 L169.09 114.18 L169.41 114.15 L169.72 114.12 L170.03 114.08 L170.35 114.04 L170.66 114.01 L170.98 113.97 L171.29 113.94 L171.61 113.91 L171.92 113.88 L172.23 113.85 L172.55 113.83 L172.86 113.81 L173.18 113.80 L173.49 113.80 L173.80 113.80 L174.12 113.81 L174.43 113.83 L174.75 113.85 L175.06 113.87 L175.37 113.90 L175.69 113.94 L176.00 113.97 L176.32 114.01 L176.63 114.04 L176.94 114.08 L177.26 114.11 L177.57 114.15 L177.89 114.18 L178.20 114.21 L178.51 114.24 L178.83 114.26 L179.14 114.28 L179.46 114.29 L179.77 114.30 L180.09 114.30 L180.40 114.29 L180.71 114.28 L181.03 114.26 L181.34 114.24 L181.66 114.21 L181.97 114.18 L182.28 114.14 L182.60 114.11 L182.91 114.07 L183.23 114.04 L183.54 114.00 L183.85 113.96 L184.17 113.93 L184.48 113.90 L184.80 113.87 L185.11 113.85 L185.42 113.83 L185.74 113.81 L186.05 113.80 L186.37 113.80 L186.68 113.81 L186.99 113.82 L187.31 113.83 L187.62 113.86 L187.94 113.88 L188.25 113.91 L188.57 113.94 L188.88 113.98 L189.19 114.01 L189.51 114.05 L189.82 114.09 L190.14 114.12 L190.45 114.16 L190.76 114.19 L191.08 114.22 L191.39 114.25 L191.71 114.27 L192.02 114.28 L192.33 114.30 L192.65 114.30 L192.96 114.30 L193.28 114.29 L193.59 114.27 L193.90 114.25 L194.22 114.23 L194.53 114.20 L194.85 114.17 L195.16 114.14 L195.47 114.10 L195.79 114.06 L196.10 114.03 L196.42 113.99 L196.73 113.95 L197.04 113.92 L197.36 113.89 L197.67 113.86 L197.99 113.84 L198.30 113.82 L198.62 113.81 L198.93 113.80 L199.24 113.80 L199.56 113.81 L199.87 113.82 L200.19 113.84 L200.50 113.86 L200.81 113.89 L201.13 113.92 L201.44 113.95 L201.76 113.99 L202.07 114.02 L202.38 114.06 L202.70 114.10 L203.01 114.13 L203.33 114.17 L203.64 114.20 L203.95 114.23 L204.27 114.25 L204.58 114.27 L204.90 114.29 L205.21 114.30 L205.52 114.30 L205.84 114.30 L206.15 114.29 L206.47 114.27 L206.78 114.25 L207.10 114.22 L207.41 114.19 L207.72 114.16 L208.04 114.13 L208.35 114.09 L208.67 114.05 L208.98 114.02 L209.29 113.98 L209.61 113.95 L209.92 113.91 L210.24 113.88 L210.55 113.86 L210.86 113.84 L211.18 113.82 L211.49 113.81 L211.81 113.80 L212.12 113.80 L212.43 113.81 L212.75 113.82 L213.06 113.84 L213.38 113.87 L213.69 113.90 L214.00 113.93 L214.32 113.96 L214.63 114.00 L214.95 114.03 L215.26 114.07 L215.58 114.11 L215.89 114.14 L216.20 114.17 L216.52 114.21 L216.83 114.23 L217.15 114.26 L217.46 114.28 L217.77 114.29 L218.09 114.30 L218.40 114.30 L218.72 114.29 L219.03 114.28 L219.34 114.26 L219.66 114.24 L219.97 114.22 L220.29 114.19 L220.60 114.15 L220.91 114.12 L221.23 114.08 L221.54 114.05 L221.86 114.01 L222.17 113.97 L222.48 113.94 L222.80 113.91 L223.11 113.88 L223.43 113.85 L223.74 113.83 L224.06 113.81 L224.37 113.80 L224.68 113.80 L225.00 113.80 L225.31 113.81 L225.63 113.83 L225.94 113.85 L226.25 113.87 L226.57 113.90 L226.88 113.93 L227.20 113.97 L227.51 114.00 L227.82 114.04 L228.14 114.08 L228.45 114.11 L228.77 114.15 L229.08 114.18 L229.39 114.21 L229.71 114.24 L230.02 114.26 L230.34 114.28 L230.65 114.29 L230.96 114.30 L231.28 114.30 L231.59 114.29 L231.91 114.28 L232.22 114.26 L232.54 114.24 L232.85 114.21 L233.16 114.18 L233.48 114.14 L233.79 114.11 L234.11 114.07 L234.42 114.04 L234.73 114.00 L235.05 113.96 L235.36 113.93 L235.68 113.90 L235.99 113.87 L236.30 113.85 L236.62 113.83 L236.93 113.81 L237.25 113.80 L237.56 113.80 L237.87 113.80 L238.19 113.82 L238.50 113.83 L238.82 113.85 L239.13 113.88 L239.44 113.91 L239.76 113.94 L240.07 113.98 L240.39 114.01 L240.70 114.05 L241.01 114.09 L241.33 114.12 L241.64 114.16 L241.96 114.19 L242.27 114.22 L242.59 114.25 L242.90 114.27 L243.21 114.28 L243.53 114.30 L243.84 114.30 L244.16 114.30 L244.47 114.29 L244.78 114.27 L245.10 114.25 L245.41 114.23 L245.73 114.20 L246.04 114.17 L246.35 114.14 L246.67 114.10 L246.98 114.06 L247.30 114.03 L247.61 113.99 L247.92 113.96 L248.24 113.92 L248.55 113.89 L248.87 113.86 L249.18 113.84 L249.49 113.82 L249.81 113.81 L250.12 113.80 L250.44 113.80 L250.75 113.81 L251.07 113.82 L251.38 113.84 L251.69 113.86 L252.01 113.89 L252.32 113.92 L252.64 113.95 L252.95 113.99 L253.26 114.02 L253.58 114.06 L253.89 114.10 L254.21 114.13 L254.52 114.17 L254.83 114.20 L255.15 114.23 L255.46 114.25 L255.78 114.27 L256.09 114.29 L256.40 114.30 L256.72 114.30 L257.03 114.30 L257.35 114.29 L257.66 114.27 L257.97 114.25 L258.29 114.22 L258.60 114.19 L258.92 114.16 L259.23 114.13 L259.55 114.09 L259.86 114.05 L260.17 114.02 L260.49 113.98 L260.80 113.95 L261.12 113.91 L261.43 113.88 L261.74 113.86 L262.06 113.84 L262.37 113.82 L262.69 113.81 L263.00 113.80 L263.31 113.80 L263.63 113.81 L263.94 113.82 L264.26 113.84 L264.57 113.87 L264.88 113.89 L265.20 113.93 L265.51 113.96 L265.83 113.99 L266.14 114.03 L266.45 114.07 L266.77 114.10 L267.08 114.14 L267.40 114.17 L267.71 114.20 L268.03 114.23 L268.34 114.26 L268.65 114.28 L268.97 114.29 L269.28 114.30 L269.60 114.30 L269.91 114.29 L270.22 114.28 L270.54 114.26 L270.85 114.24 L271.17 114.22 L271.48 114.19 L271.79 114.15 L272.11 114.12 L272.42 114.08 L272.74 114.05 L273.05 114.01 L273.36 113.97 L273.68 113.94 L273.99 113.91 L274.31 113.88 L274.62 113.85 L274.93 113.83 L275.25 113.81 L275.56 113.80 L275.88 113.80 L276.19 113.80 L276.51 113.81 L276.82 113.83 L277.13 113.85 L277.45 113.87 L277.76 113.90 L278.08 113.93 L278.39 113.97 L278.70 114.00 L279.02 114.04 L279.33 114.08 L279.65 114.11 L279.96 114.15 L280.27 114.18 L280.59 114.21 L280.90 114.24 L281.22 114.26 L281.53 114.28 L281.84 114.29 L282.16 114.30 L282.47 114.30 L282.79 114.29 L283.10 114.28 L283.41 114.26 L283.73 114.24 L284.04 114.21 L284.36 114.18 L284.67 114.14 L284.98 114.11 L285.30 114.07 L285.61 114.04 L285.93 114.00 L286.24 113.96 L286.56 113.93 L286.87 113.90 L287.18 113.87 L287.50 113.85 L287.81 113.83 L288.13 113.81 L288.44 113.80 L288.75 113.80 L289.07 113.80 L289.38 113.82 L289.70 113.83 L290.01 113.85 L290.32 113.88 L290.64 113.91 L290.95 113.94 L291.27 113.98 L291.58 114.01 L291.89 114.05 L292.21 114.09 L292.52 114.12 L292.84 114.16 L293.15 114.19 L293.46 114.22 L293.78 114.24 L294.09 114.27 L294.41 114.28 L294.72 114.29 L295.04 114.30 L295.35 114.30 L295.66 114.29 L295.98 114.27 L296.29 114.25 L296.61 114.23 L296.92 114.20 L297.23 114.17 L297.55 114.14 L297.86 114.10 L298.18 114.06 L298.49 114.03 L298.80 113.99 L299.12 113.96 L299.43 113.92 L299.75 113.89 L300.06 113.86 L300.37 113.84 L300.69 113.82 L301.00 113.81 L301.32 113.80 L301.63 113.80 L301.94 113.81 L302.26 113.82 L302.57 113.84 L302.89 113.86 L303.20 113.89 L303.52 113.92 L303.83 113.95 L304.14 113.99 L304.46 114.02 L304.77 114.06 L305.09 114.09 L305.40 114.13 L305.71 114.16 L306.03 114.20 L306.34 114.23 L306.66 114.25 L306.97 114.27 L307.28 114.29 L307.60 114.30 L307.91 114.30 L308.23 114.30 L308.54 114.29 L308.85 114.27 L309.17 114.25 L309.48 114.22 L309.80 114.19 L310.11 114.16 L310.42 114.13 L310.74 114.09 L311.05 114.06 L311.37 114.02 L311.68 113.98 L312.00 113.95 L312.31 113.92 L312.62 113.88 L312.94 113.86 L313.25 113.84 L313.57 113.82 L313.88 113.81 L314.19 113.80 L314.51 113.80 L314.82 113.81 L315.14 113.82 L315.45 113.84 L315.76 113.87 L316.08 113.89 L316.39 113.93 L316.71 113.96 L317.02 113.99 L317.33 114.03 L317.65 114.07 L317.96 114.10 L318.28 114.14 L318.59 114.17 L318.90 114.20 L319.22 114.23 L319.53 114.26 L319.85 114.28 L320.16 114.29 L320.47 114.30 L320.79 114.30 L321.10 114.29 L321.42 114.28 L321.73 114.27 L322.05 114.24 L322.36 114.22 L322.67 114.19 L322.99 114.15 L323.30 114.12 L323.62 114.08 L323.93 114.05 L324.24 114.01 L324.56 113.97 L324.87 113.94 L325.19 113.91 L325.50 113.88 L325.81 113.85 L326.13 113.83 L326.44 113.81 L326.76 113.80 L327.07 113.80 L327.38 113.80 L327.70 113.81 L328.01 113.83 L328.33 113.85 L328.64 113.87 L328.95 113.90 L329.27 113.93 L329.58 113.97 L329.90 114.00 L330.21 114.04 L330.53 114.08 L330.84 114.11 L331.15 114.15 L331.47 114.18 L331.78 114.21 L332.10 114.24 L332.41 114.26 L332.72 114.28 L333.04 114.29 L333.35 114.30 L333.67 114.30 L333.98 114.29 L334.29 114.28 L334.61 114.26 L334.92 114.24 L335.24 114.21 L335.55 114.18 L335.86 114.15 L336.18 114.11 L336.49 114.07 L336.81 114.04 L337.12 114.00 L337.43 113.97 L337.75 113.93 L338.06 113.90 L338.38 113.87 L338.69 113.85 L339.01 113.83 L339.32 113.81 L339.63 113.80 L339.95 113.80 L340.26 113.80 L340.58 113.82 L340.89 113.83 L341.20 113.85 L341.52 113.88 L341.83 113.91 L342.15 113.94 L342.46 113.98 L342.77 114.01 L343.09 114.05 L343.40 114.09 L343.72 114.12 L344.03 114.16 L344.34 114.19 L344.66 114.22 L344.97 114.24 L345.29 114.27 L345.60 114.28 L345.91 114.29 L346.23 114.30 L346.54 114.30 L346.86 114.29 L347.17 114.27 L347.49 114.25 L347.80 114.23 L348.11 114.20 L348.43 114.17 L348.74 114.14 L349.06 114.10 L349.37 114.07 L349.68 114.03 L350.00 113.99 L350.31 113.96 L350.63 113.92 L350.94 113.89 L351.25 113.87 L351.57 113.84 L351.88 113.82 L352.20 113.81 L352.51 113.80 L352.82 113.80 L353.14 113.81 L353.45 113.82 L353.77 113.84 L354.08 113.86 L354.39 113.89 L354.71 113.92 L355.02 113.95 L355.34 113.98 L355.65 114.02 L355.97 114.06 L356.28 114.09 L356.59 114.13 L356.91 114.16 L357.22 114.20 L357.54 114.22 L357.85 114.25 L358.16 114.27 L358.48 114.29 L358.79 114.30 L359.11 114.30 L359.42 114.30 L359.73 114.29 L360.05 114.27 L360.36 114.25 L360.68 114.22 L360.99 114.19 L361.30 114.16 L361.62 114.13 L361.93 114.09 L362.25 114.06 L362.56 114.02 L362.87 113.98 L363.19 113.95 L363.50 113.92 L363.82 113.89 L364.13 113.86 L364.44 113.84 L364.76 113.82 L365.07 113.81 L365.39 113.80 L365.70 113.80 L366.02 113.81 L366.33 113.82 L366.64 113.84 L366.96 113.87 L367.27 113.89 L367.59 113.92 L367.90 113.96 L368.21 113.99 L368.53 114.03 L368.84 114.07 L369.16 114.10 L369.47 114.14 L369.78 114.17 L370.10 114.20 L370.41 114.23 L370.73 114.26 L371.04 114.28 L371.35 114.29 L371.67 114.30 L371.98 114.30 L372.30 114.29 L372.61 114.28 L372.92 114.27 L373.24 114.24 L373.55 114.22 L373.87 114.19 L374.18 114.15 L374.50 114.12 L374.81 114.08 L375.12 114.05 L375.44 114.01 L375.75 113.97 L376.07 113.94 L376.38 113.91 L376.69 113.88 L377.01 113.85 L377.32 113.83 L377.64 113.82 L377.95 113.80" stroke="#0f0" stroke-width="1.6" stroke-dasharray="1.4 1.28"/>
</g>
<g stroke="#262626" stroke-width="0.75" fill="none">
<rect x="96.0" y="2.8" width="282.1" height="223.0"/>
<path stroke-width="0.6" d="M152.35 225.8 v-3.0 M152.35 2.8 v3.0"/>
<path stroke-width="0.6" d="M208.75 225.8 v-3.0 M208.75 2.8 v3.0"/>
<path stroke-width="0.6" d="M265.15 225.8 v-3.0 M265.15 2.8 v3.0"/>
<path stroke-width="0.6" d="M321.55 225.8 v-3.0 M321.55 2.8 v3.0"/>
<path stroke-width="0.6" d="M96 197.71 h3.0 M378.1 197.71 h-3.0"/>
<path stroke-width="0.6" d="M96 169.82 h3.0 M378.1 169.82 h-3.0"/>
<path stroke-width="0.6" d="M96 141.94 h3.0 M378.1 141.94 h-3.0"/>
<path stroke-width="0.6" d="M96 114.05 h3.0 M378.1 114.05 h-3.0"/>
<path stroke-width="0.6" d="M96 86.16 h3.0 M378.1 86.16 h-3.0"/>
<path stroke-width="0.6" d="M96 58.28 h3.0 M378.1 58.28 h-3.0"/>
<path stroke-width="0.6" d="M96 30.39 h3.0 M378.1 30.39 h-3.0"/>
</g>
<g transform="rotate(0.03 224 126)">
<g font-size="10" fill="#1a1a1a" stroke="#1a1a1a" stroke-width="0.15">
<text transform="translate(95.95,238.8) scale(0.93,1)" text-anchor="middle">0</text>
<text transform="translate(152.35,238.8) scale(0.93,1)" text-anchor="middle">1</text>
<text transform="translate(208.75,238.8) scale(0.93,1)" text-anchor="middle">2</text>
<text transform="translate(265.15,238.8) scale(0.93,1)" text-anchor="middle">3</text>
<text transform="translate(321.55,238.8) scale(0.93,1)" text-anchor="middle">4</text>
<text transform="translate(377.95,238.8) scale(0.93,1)" text-anchor="middle">5</text>
<text transform="translate(92.3,229.70) scale(0.93,1)" text-anchor="end">0</text>
<text transform="translate(92.3,201.81) scale(0.93,1)" text-anchor="end">0.5</text>
<text transform="translate(92.3,173.92) scale(0.93,1)" text-anchor="end">1</text>
<text transform="translate(92.3,146.04) scale(0.93,1)" text-anchor="end">1.5</text>
<text transform="translate(92.3,118.15) scale(0.93,1)" text-anchor="end">2</text>
<text transform="translate(92.3,90.26) scale(0.93,1)" text-anchor="end">2.5</text>
<text transform="translate(92.3,62.38) scale(0.93,1)" text-anchor="end">3</text>
<text transform="translate(92.3,34.49) scale(0.93,1)" text-anchor="end">3.5</text>
<text transform="translate(92.3,6.60) scale(0.93,1)" text-anchor="end">4</text>
</g>
<g class="m" fill="#1a1a1a" stroke="#1a1a1a" stroke-width="0.15" font-size="9.5" font-style="italic">
<text class="m" x="224" y="249.6" textLength="3.3" lengthAdjust="spacingAndGlyphs">t</text>
<text class="m" x="228.1" y="249.6" textLength="4.6" lengthAdjust="spacingAndGlyphs">ν</text>
<text class="m" font-style="normal" font-size="12.5" x="233.2" y="250.8" textLength="4.4" lengthAdjust="spacingAndGlyphs">/</text>
<text class="m" x="238.2" y="249.6" textLength="7.8" lengthAdjust="spacingAndGlyphs">D</text>
<text class="m" font-style="normal" font-size="6.6" x="246.2" y="245.4">2</text>
<g transform="translate(74.6,122.8) rotate(-90)">
<text class="m" x="0" y="0" textLength="5.2" lengthAdjust="spacingAndGlyphs">x</text>
<text class="m" font-style="normal" font-size="12.5" x="5.5" y="1.3" textLength="4.4" lengthAdjust="spacingAndGlyphs">/</text>
<text class="m" x="10.4" y="0" textLength="7.6" lengthAdjust="spacingAndGlyphs">D</text>
</g>
</g>
<rect x="307.3" y="11.4" width="62.1" height="40.9" fill="#fff" stroke="#262626" stroke-width="0.55"/>
<g fill="none">
<path d="M309.5 17.2 H329" stroke="#000" stroke-width="1.6" stroke-dasharray="5.4 5.2"/>
<path d="M309.7 27.2 H329" stroke="#f00" stroke-width="1.7"/>
<path d="M309.5 37.0 H329" stroke="#00f" stroke-width="1.7" stroke-dasharray="4.5 1.2 1.6 1.3"/>
<path d="M309.5 46.7 H329" stroke="#0f0" stroke-width="1.6" stroke-dasharray="1.4 1.28"/>
</g>
<g class="m" font-size="7.9" fill="#1a1a1a" stroke="#1a1a1a" stroke-width="0.12">
<text class="m" font-style="italic" x="331" y="19.8" textLength="9.9" lengthAdjust="spacingAndGlyphs">Gr</text>
<text class="m" x="342.9" y="19.8" textLength="5.9" lengthAdjust="spacingAndGlyphs">=</text>
<text class="m" x="351.3" y="19.8">100</text>
<text class="m" font-style="italic" x="331" y="29.8" textLength="9.9" lengthAdjust="spacingAndGlyphs">Gr</text>
<text class="m" x="342.9" y="29.8" textLength="5.9" lengthAdjust="spacingAndGlyphs">=</text>
<text class="m" x="351.3" y="29.8">564</text>
<text class="m" font-style="italic" x="331" y="39.6" textLength="9.9" lengthAdjust="spacingAndGlyphs">Gr</text>
<text class="m" x="342.9" y="39.6" textLength="5.9" lengthAdjust="spacingAndGlyphs">=</text>
<text class="m" x="351.3" y="39.6">1000</text>
<text class="m" font-style="italic" x="331" y="49.3" textLength="9.9" lengthAdjust="spacingAndGlyphs">Gr</text>
<text class="m" x="342.9" y="49.3" textLength="5.9" lengthAdjust="spacingAndGlyphs">=</text>
<text class="m" x="351.3" y="49.3">2500</text>
</g>
</g>
</svg>
</body></html>
